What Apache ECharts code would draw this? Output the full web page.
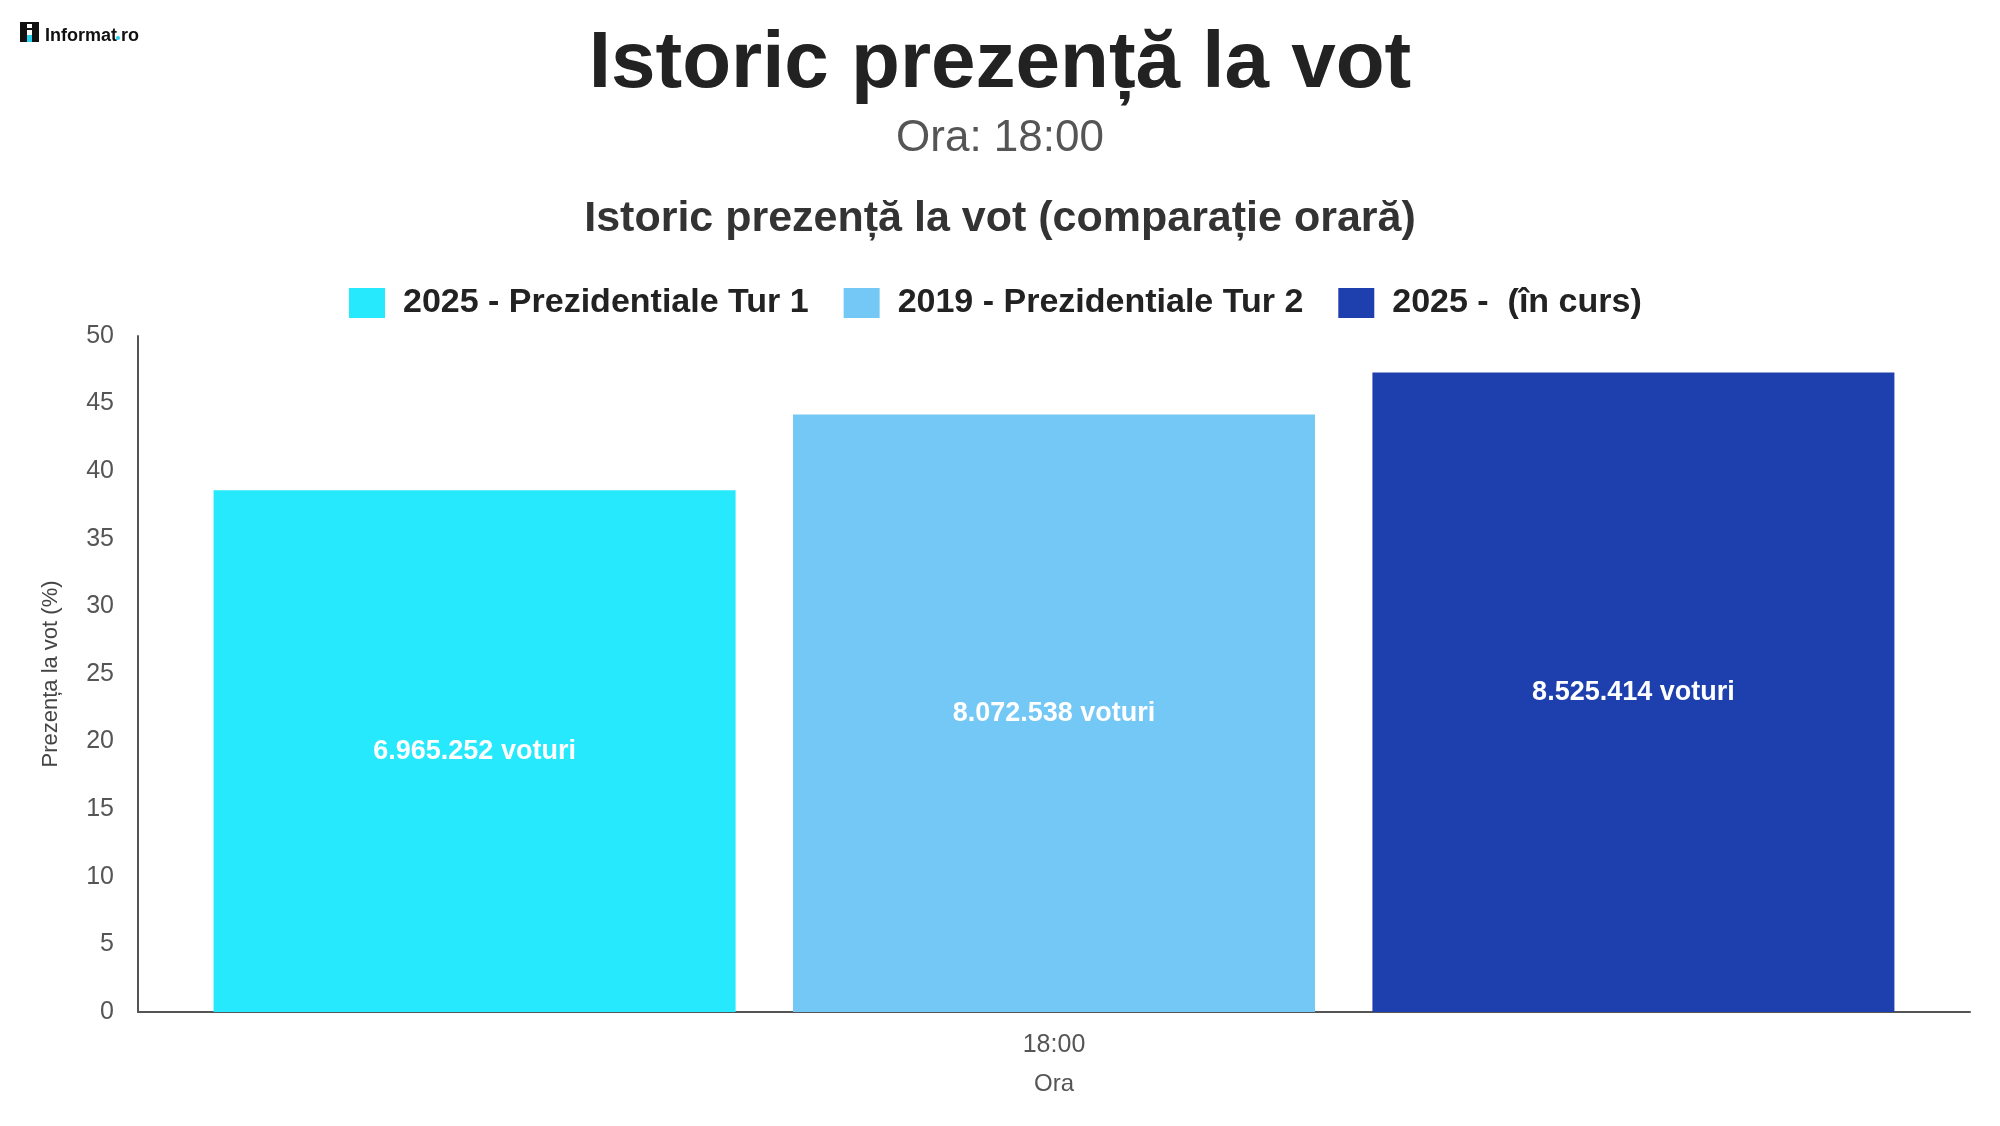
<!DOCTYPE html>
<html>
<head>
<meta charset="utf-8">
<script src="https://cdn.jsdelivr.net/npm/echarts@6/dist/echarts.min.js"></script>
<style>
html,body{margin:0;padding:0;background:#fff;}
#chart{width:2000px;height:1126px;}
</style>
</head>
<body>
<div id="chart"></div>
<script>
const categories = ['18:00'];
const seriesNames = ['2025 - Prezidentiale Tur 1', '2019 - Prezidentiale Tur 2', '2025 -  (în curs)'];
const turnout = [38.6, 44.2, 47.3];
const votes = ['6.965.252', '8.072.538', '8.525.414'];
const colors = ['#27E9FD', '#74C8F5', '#1E40AF'];
const yTicks = { min: 0, max: 50, interval: 5 };

const FONT = '"Liberation Sans", Arial, sans-serif';
const chart = echarts.init(document.getElementById('chart'), null, { renderer: 'canvas' });

const series = seriesNames.map((name, i) => ({
  name: name,
  type: 'bar',
  barWidth: 522,
  barGap: '11%',
  itemStyle: { color: colors[i] },
  label: {
    show: true,
    position: 'inside',
    color: '#fff',
    fontFamily: FONT,
    fontWeight: 'bold',
    fontSize: 27,
    formatter: () => votes[i] + ' voturi'
  },
  data: [turnout[i]]
}));

chart.setOption({
  animation: false,
  backgroundColor: '#fff',
  title: [
    { text: 'Istoric prezență la vot', left: 'center', top: 20,
      textStyle: { fontFamily: FONT, fontWeight: 'bold', fontSize: 80, color: '#222', lineHeight: 80 } },
    { text: 'Ora: 18:00', left: 'center', top: 112,
      textStyle: { fontFamily: FONT, fontWeight: 'normal', fontSize: 44, color: '#555', lineHeight: 44 } },
    { text: 'Istoric prezență la vot (comparație orară)', left: 'center', top: 193,
      textStyle: { fontFamily: FONT, fontWeight: 'bold', fontSize: 43, color: '#333', lineHeight: 43 } }
  ],
  legend: {
    data: seriesNames,
    left: 344,
    top: 281,
    itemWidth: 36,
    itemHeight: 30,
    itemGap: 35,
    icon: 'rect',
    textStyle: { fontFamily: FONT, fontWeight: 'bold', fontSize: 34, color: '#222', padding: [0, 0, 0, 13] }
  },
  grid: { left: 138, right: 30, top: 336, bottom: 114, containLabel: false },
  xAxis: {
    type: 'category',
    data: categories,
    name: 'Ora',
    nameLocation: 'middle',
    nameGap: 60,
    nameTextStyle: { fontFamily: FONT, fontSize: 24, color: '#555' },
    axisLine: { show: true, lineStyle: { color: '#555', width: 2 } },
    axisTick: { show: false },
    axisLabel: { fontFamily: FONT, fontSize: 25, color: '#555', margin: 21 }
  },
  yAxis: {
    type: 'value',
    min: yTicks.min,
    max: yTicks.max,
    interval: yTicks.interval,
    name: 'Prezența la vot (%)',
    nameLocation: 'middle',
    nameRotate: 90,
    nameGap: 76,
    nameTextStyle: { fontFamily: FONT, fontSize: 22, color: '#444' },
    axisLine: { show: true, lineStyle: { color: '#555', width: 2 } },
    axisTick: { show: false },
    splitLine: { show: false },
    axisLabel: { fontFamily: FONT, fontSize: 25, color: '#555', margin: 24 }
  },
  graphic: [
    { type: 'rect', shape: { x: 20, y: 22, width: 19, height: 20 }, style: { fill: '#111' } },
    { type: 'rect', shape: { x: 27, y: 24, width: 5, height: 4 }, style: { fill: '#fff' } },
    { type: 'rect', shape: { x: 27, y: 30, width: 5, height: 5 }, style: { fill: '#fff' } },
    { type: 'rect', shape: { x: 27, y: 35, width: 5, height: 7 }, style: { fill: '#27D3F0' } },
    { type: 'text', left: 45, top: 27, style: { text: 'Informat', font: '600 18px ' + FONT, fill: '#111' } },
    { type: 'circle', shape: { cx: 118, cy: 38, r: 2 }, style: { fill: '#27D3F0' } },
    { type: 'text', left: 121, top: 27, style: { text: 'ro', font: '600 18px ' + FONT, fill: '#111' } }
  ],
  series: series
});
</script>
</body>
</html>
